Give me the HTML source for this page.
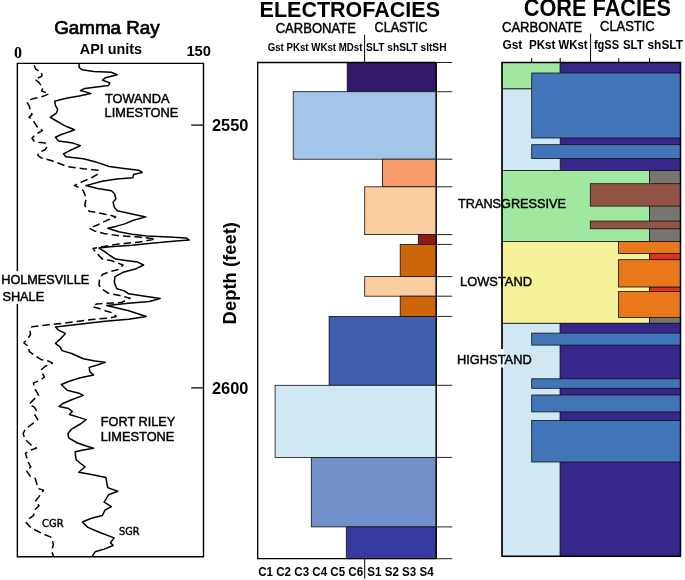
<!DOCTYPE html>
<html><head><meta charset="utf-8"><title>Gamma Ray / Electrofacies / Core Facies</title>
<style>
html,body{margin:0;padding:0;background:#fff;}
body{width:685px;height:580px;overflow:hidden;}
svg{display:block;font-family:"Liberation Sans",sans-serif;fill:#000;}
</style></head><body>
<svg width="685" height="580" viewBox="0 0 685 580">
<rect width="685" height="580" fill="#fff"/>

<g fill="none" stroke="#000" stroke-width="1.4">
<path d="M17.35,271.2 V63.4 H203.5 V556.8 H17.35 V303.9"/>
<path d="M191.2,125.1 H203.3 M191.2,387.9 H203.3"/>
</g>
<path d="M79.1,64.0 L79.1,67.5 L82.0,69.7 L93.7,71.4 L111.3,72.3 L117.2,74.8 L105.5,77.7 L102.5,80.2 L109.9,82.9 L108.4,85.5 L96.7,87.0 L84.9,88.4 L80.5,90.6 L90.8,93.4 L79.1,96.1 L68.8,97.8 L60.0,99.7 L54.7,101.2 L55.5,105.6 L57.7,109.3 L56.6,112.9 L50.3,117.3 L54.0,119.5 L61.3,123.9 L67.2,126.8 L74.5,129.8 L68.7,132.0 L61.3,134.5 L55.5,137.2 L58.4,140.9 L73.0,143.1 L80.4,145.6 L71.6,149.7 L63.5,153.8 L65.7,156.7 L83.3,158.8 L96.1,162.1 L109.3,166.5 L124.0,168.4 L138.7,170.2 L142.3,172.4 L133.5,174.6 L132.8,177.8 L116.7,179.0 L102.0,181.2 L85.9,185.6 L97.6,188.5 L111.5,190.7 L114.5,193.7 L115.9,198.8 L113.0,202.4 L114.5,207.6 L117.3,210.7 L132.0,214.1 L145.9,216.9 L133.5,220.3 L124.7,223.9 L115.9,226.4 L107.7,228.3 L118.8,231.7 L132.0,234.2 L146.7,236.1 L168.7,237.1 L186.2,237.9 L189.2,240.1 L176.0,241.1 L154.0,243.0 L132.0,245.2 L110.0,246.7 L98.9,248.1 L104.0,251.1 L109.9,255.5 L115.7,259.1 L126.0,260.6 L137.7,262.1 L143.6,265.0 L136.2,268.7 L123.0,272.3 L115.0,276.7 L114.3,281.8 L115.5,285.5 L116.9,288.7 L124.3,290.9 L128.7,293.8 L143.3,296.0 L160.2,298.5 L149.2,301.4 L128.7,303.3 L106.7,305.5 L128.7,310.7 L146.2,316.5 L128.7,319.3 L105.0,321.2 L83.3,323.7 L55.5,327.1 L58.4,330.1 L65.4,333.4 L61.3,338.1 L55.5,343.3 L59.9,346.9 L62.1,350.6 L71.6,353.5 L83.3,358.7 L95.0,360.9 L105.3,362.3 L96.5,365.2 L89.2,367.4 L89.9,371.8 L93.6,375.1 L80.4,377.7 L70.0,381.0 L61.3,384.5 L67.2,390.3 L78.9,393.2 L83.3,395.4 L71.6,399.8 L62.8,403.5 L59.1,406.4 L68.7,408.6 L72.3,411.5 L69.4,414.5 L78.9,417.4 L86.2,419.6 L80.4,424.0 L71.6,429.1 L67.9,433.5 L68.7,437.9 L77.4,443.0 L86.2,446.0 L93.6,448.2 L83.3,450.1 L75.2,451.8 L75.5,456.0 L76.3,460.0 L85.1,466.8 L78.8,472.2 L91.4,474.5 L105.9,477.6 L107.7,487.6 L117.7,491.2 L108.6,494.8 L104.1,502.1 L111.4,506.6 L105.0,510.2 L102.3,515.6 L91.4,518.3 L82.4,522.0 L87.8,527.4 L100.5,532.8 L114.1,537.9 L110.5,542.8 L113.2,545.5 L104.1,549.1 L95.1,551.8 L92.4,556.2" fill="none" stroke="#000" stroke-width="1.5" stroke-linejoin="round"/>
<path d="M34.2,65.3 L35.7,69.2 L41.5,72.6 L42.0,76.0 L34.9,79.6 L38.6,82.1 L43.0,88.0 L41.5,90.9 L48.9,93.9 L43.7,96.1 L34.9,98.3 L29.8,99.7 L27.3,102.7 L29.1,105.6 L30.5,110.7 L32.0,114.4 L29.1,117.3 L33.5,121.0 L37.1,126.8 L39.3,127.1 L42.3,130.5 L34.9,134.9 L32.0,138.2 L34.2,141.2 L38.6,142.3 L45.2,143.1 L47.4,146.0 L45.2,149.7 L38.6,152.6 L37.9,155.5 L40.8,157.7 L54.0,161.4 L67.2,166.5 L83.3,168.7 L98.0,170.2 L98.7,173.4 L92.1,177.5 L81.8,181.9 L74.5,185.6 L78.9,187.5 L83.3,190.7 L86.2,198.0 L84.8,205.4 L89.2,211.2 L98.1,212.9 L109.9,215.1 L115.7,217.0 L106.9,220.3 L98.1,224.7 L89.3,228.3 L95.2,231.3 L104.0,233.5 L118.7,235.7 L133.3,236.7 L139.3,237.1 L155.5,239.0 L139.3,242.0 L124.7,243.4 L118.7,244.0 L104.0,246.4 L93.0,248.4 L96.7,253.3 L102.5,259.1 L111.3,260.6 L123.0,265.0 L118.7,269.4 L109.9,271.6 L102.5,274.5 L99.6,278.9 L98.9,284.8 L101.5,288.7 L108.1,293.1 L119.9,295.6 L130.1,298.2 L121.3,302.6 L106.7,303.3 L96.4,304.1 L92.7,306.7 L99.3,308.5 L105.2,310.7 L112.5,312.9 L116.2,316.5 L109.6,318.0 L92.1,319.4 L76.0,321.7 L61.3,323.5 L46.7,324.9 L32.0,326.7 L29.8,329.3 L30.5,334.5 L27.6,338.9 L23.9,342.8 L29.1,346.9 L29.1,351.3 L34.9,355.7 L40.8,359.4 L48.1,360.9 L52.5,363.0 L45.2,366.3 L41.5,369.6 L42.3,373.3 L44.5,377.0 L39.7,380.5 L33.5,382.9 L34.2,387.3 L38.6,395.4 L34.2,399.1 L29.1,404.2 L34.2,407.1 L37.1,411.5 L34.9,415.2 L37.9,419.6 L31.3,424.7 L25.4,429.1 L23.2,433.5 L24.7,438.7 L30.5,444.5 L36.4,448.2 L29.8,450.4 L25.4,453.3 L26.6,457.0 L27.2,460.4 L30.8,466.8 L26.3,470.4 L29.9,475.8 L35.3,478.5 L38.1,488.5 L43.5,490.3 L39.0,496.6 L35.3,501.2 L39.0,505.7 L35.3,509.3 L33.5,515.6 L28.1,519.3 L26.3,522.9 L31.7,528.3 L42.6,533.7 L51.6,537.4 L53.4,544.6 L51.6,550.9 L53.4,556.2" fill="none" stroke="#000" stroke-width="1.5" stroke-dasharray="7.5 4" stroke-linejoin="round"/>
<text x="54.2" y="34.3" font-size="18" font-weight="normal" textLength="105.5" lengthAdjust="spacingAndGlyphs" stroke="#000" stroke-width="0.7">Gamma Ray</text>
<text x="79.8" y="53.5" font-size="14" font-weight="bold" textLength="62.2" lengthAdjust="spacingAndGlyphs">API units</text>
<text x="13.9" y="57.8" font-size="16" font-weight="bold" font-family="Liberation Serif, serif">0</text>
<text x="186.4" y="56.4" font-size="15" font-weight="bold" textLength="24.6" lengthAdjust="spacingAndGlyphs">150</text>
<text x="104.9" y="102.6" font-size="13" font-weight="normal" textLength="64.6" lengthAdjust="spacingAndGlyphs" stroke="#000" stroke-width="0.45">TOWANDA</text>
<text x="104.6" y="116.9" font-size="13" font-weight="normal" textLength="73.6" lengthAdjust="spacingAndGlyphs" stroke="#000" stroke-width="0.45">LIMESTONE</text>
<text x="1.3" y="284.1" font-size="13" font-weight="normal" textLength="87.8" lengthAdjust="spacingAndGlyphs" stroke="#000" stroke-width="0.45">HOLMESVILLE</text>
<text x="2.4" y="300.5" font-size="13" font-weight="normal" textLength="41.8" lengthAdjust="spacingAndGlyphs" stroke="#000" stroke-width="0.45">SHALE</text>
<text x="100.8" y="426.4" font-size="13" font-weight="normal" textLength="74.4" lengthAdjust="spacingAndGlyphs" stroke="#000" stroke-width="0.45">FORT RILEY</text>
<text x="100.7" y="441.2" font-size="13" font-weight="normal" textLength="73.7" lengthAdjust="spacingAndGlyphs" stroke="#000" stroke-width="0.45">LIMESTONE</text>
<text x="42.1" y="527.0" font-size="11" font-weight="normal" textLength="21.4" lengthAdjust="spacingAndGlyphs" font-family="DejaVu Sans, sans-serif" stroke="#000" stroke-width="0.45">CGR</text>
<text x="119.1" y="534.7" font-size="11" font-weight="normal" textLength="20.5" lengthAdjust="spacingAndGlyphs" font-family="DejaVu Sans, sans-serif" stroke="#000" stroke-width="0.45">SGR</text>
<text x="211.9" y="130.6" font-size="16" font-weight="bold" textLength="36.5" lengthAdjust="spacingAndGlyphs">2550</text>
<text x="211.9" y="393.5" font-size="16" font-weight="bold" textLength="36.5" lengthAdjust="spacingAndGlyphs">2600</text>
<text transform="translate(236,324.4) rotate(-90)" font-size="17.5" font-weight="bold" textLength="102.3" lengthAdjust="spacingAndGlyphs">Depth (feet)</text>
<text x="259.6" y="16.8" font-size="22" font-weight="bold" textLength="180.4" lengthAdjust="spacingAndGlyphs">ELECTROFACIES</text>
<text x="275.7" y="33.0" font-size="14" font-weight="normal" textLength="80.3" lengthAdjust="spacingAndGlyphs" stroke="#000" stroke-width="0.45">CARBONATE</text>
<text x="374.6" y="32.0" font-size="14" font-weight="normal" textLength="53.0" lengthAdjust="spacingAndGlyphs" stroke="#000" stroke-width="0.45">CLASTIC</text>
<text x="267.7" y="51.4" font-size="11.5" font-weight="bold" textLength="94.7" lengthAdjust="spacingAndGlyphs">Gst PKst WKst MDst</text>
<text x="366.0" y="51.4" font-size="11.5" font-weight="bold" textLength="80.5" lengthAdjust="spacingAndGlyphs">SLT shSLT sltSH</text>
<path d="M364.6,34.7 V62 M364.7,558.7 V578.7" stroke="#000" stroke-width="1" fill="none"/>
<path d="M436.2,62.5 H452.3 M436.2,91.7 H452.3 M436.2,159.2 H452.3 M436.2,186.8 H452.3 M436.2,234.6 H452.3 M436.2,244.4 H452.3 M436.2,276.6 H452.3 M436.2,296.2 H452.3 M436.2,316.4 H452.3 M436.2,385.3 H452.3 M436.2,457.4 H452.3 M436.2,526.9 H452.3 M436.2,558.7 H452.3" stroke="#222" stroke-width="1" fill="none"/>
<rect x="347.2" y="62.5" width="89.0" height="29.2" fill="#32196B" stroke="#111" stroke-width="0.8"/>
<rect x="293.2" y="91.7" width="143.0" height="67.5" fill="#A3C5E8" stroke="#111" stroke-width="0.8"/>
<rect x="382.4" y="159.2" width="53.8" height="27.6" fill="#F89B6B" stroke="#111" stroke-width="0.8"/>
<rect x="364.7" y="186.8" width="71.5" height="47.8" fill="#FACD9E" stroke="#111" stroke-width="0.8"/>
<rect x="418.3" y="234.6" width="17.9" height="9.8" fill="#8A1A12" stroke="#111" stroke-width="0.8"/>
<rect x="400.2" y="244.4" width="36.0" height="32.2" fill="#CC6608" stroke="#111" stroke-width="0.8"/>
<rect x="364.7" y="276.6" width="71.5" height="19.6" fill="#FACD9E" stroke="#111" stroke-width="0.8"/>
<rect x="400.2" y="296.2" width="36.0" height="20.2" fill="#CC6608" stroke="#111" stroke-width="0.8"/>
<rect x="329.1" y="316.4" width="107.1" height="68.9" fill="#3F5FAE" stroke="#111" stroke-width="0.8"/>
<rect x="275.1" y="385.3" width="161.1" height="72.1" fill="#D0E8F4" stroke="#111" stroke-width="0.8"/>
<rect x="311.3" y="457.4" width="124.9" height="69.5" fill="#7190CA" stroke="#111" stroke-width="0.8"/>
<rect x="346.3" y="526.9" width="89.9" height="31.8" fill="#38399F" stroke="#111" stroke-width="0.8"/>
<path d="M436.2,62.5 H257.7 V558.7 H436.2" fill="none" stroke="#000" stroke-width="1.3"/>
<path d="M436.2,62.5 V558.7" fill="none" stroke="#000" stroke-width="1.3"/>
<text x="258.2" y="576.3" font-size="12" font-weight="bold" textLength="105.0" lengthAdjust="spacingAndGlyphs">C1 C2 C3 C4 C5 C6</text>
<text x="367.3" y="576.3" font-size="12" font-weight="bold" textLength="66.4" lengthAdjust="spacingAndGlyphs">S1 S2 S3 S4</text>
<text x="523.8" y="15.6" font-size="24" font-weight="bold" textLength="147.2" lengthAdjust="spacingAndGlyphs">CORE FACIES</text>
<text x="502.0" y="32.2" font-size="14" font-weight="normal" textLength="80.2" lengthAdjust="spacingAndGlyphs" stroke="#000" stroke-width="0.45">CARBONATE</text>
<text x="600.1" y="31.3" font-size="14" font-weight="normal" textLength="54.6" lengthAdjust="spacingAndGlyphs" stroke="#000" stroke-width="0.45">CLASTIC</text>
<text x="502.5" y="49.0" font-size="12" font-weight="bold" textLength="19.8" lengthAdjust="spacingAndGlyphs">Gst</text>
<text x="528.9" y="49.0" font-size="12" font-weight="bold" textLength="26.5" lengthAdjust="spacingAndGlyphs">PKst</text>
<text x="558.6" y="49.0" font-size="12" font-weight="bold" textLength="29.0" lengthAdjust="spacingAndGlyphs">WKst</text>
<text x="593.9" y="49.0" font-size="12" font-weight="bold" textLength="25.3" lengthAdjust="spacingAndGlyphs">fgSS</text>
<text x="623.0" y="49.0" font-size="12" font-weight="bold" textLength="20.7" lengthAdjust="spacingAndGlyphs">SLT</text>
<text x="647.5" y="49.0" font-size="12" font-weight="bold" textLength="35.5" lengthAdjust="spacingAndGlyphs">shSLT</text>
<path d="M590.6,33.7 V62 M531.7,58 V62 M560.2,58 V62 M618.8,58 V62 M649.5,58 V62" stroke="#000" stroke-width="1" fill="none"/>
<rect x="502.0" y="62.5" width="58.2" height="26.4" fill="#A0E8A0" stroke="#111" stroke-width="0.8"/>
<rect x="560.2" y="62.5" width="120.3" height="108.0" fill="#38278A" stroke="#111" stroke-width="0.8"/>
<rect x="502.0" y="88.9" width="58.2" height="81.6" fill="#D0E8F4" stroke="#111" stroke-width="0.8"/>
<rect x="531.7" y="73.0" width="148.8" height="65.0" fill="#4275B8" stroke="#111" stroke-width="0.8"/>
<rect x="531.7" y="144.7" width="148.8" height="13.8" fill="#4275B8" stroke="#111" stroke-width="0.8"/>
<rect x="502.0" y="170.5" width="147.4" height="70.9" fill="#A0E8A0" stroke="#111" stroke-width="0.8"/>
<rect x="649.4" y="170.5" width="31.1" height="70.9" fill="#787470" stroke="#111" stroke-width="0.8"/>
<rect x="590.3" y="183.7" width="90.2" height="22.4" fill="#915444" stroke="#111" stroke-width="0.8"/>
<rect x="590.3" y="221.1" width="90.2" height="7.7" fill="#915444" stroke="#111" stroke-width="0.8"/>
<rect x="502.0" y="241.4" width="147.4" height="81.9" fill="#F6F29A" stroke="#111" stroke-width="0.8"/>
<rect x="649.4" y="241.4" width="31.1" height="81.9" fill="#787470" stroke="#111" stroke-width="0.8"/>
<rect x="649.4" y="253.6" width="31.1" height="6.1" fill="#E03020" stroke="#111" stroke-width="0.8"/>
<rect x="649.4" y="287.0" width="31.1" height="4.6" fill="#E03020" stroke="#111" stroke-width="0.8"/>
<rect x="618.5" y="241.4" width="62.0" height="12.2" fill="#E8781A" stroke="#111" stroke-width="0.8"/>
<rect x="618.5" y="259.7" width="62.0" height="27.3" fill="#E8781A" stroke="#111" stroke-width="0.8"/>
<rect x="618.5" y="291.6" width="62.0" height="25.8" fill="#E8781A" stroke="#111" stroke-width="0.8"/>
<rect x="502.0" y="323.3" width="58.2" height="233.0" fill="#D0E8F4" stroke="#111" stroke-width="0.8"/>
<rect x="560.2" y="323.3" width="120.3" height="233.0" fill="#38278A" stroke="#111" stroke-width="0.8"/>
<rect x="531.7" y="333.1" width="148.8" height="12.0" fill="#4275B8" stroke="#111" stroke-width="0.8"/>
<rect x="531.7" y="378.8" width="148.8" height="9.5" fill="#4275B8" stroke="#111" stroke-width="0.8"/>
<rect x="531.7" y="395.0" width="148.8" height="16.9" fill="#4275B8" stroke="#111" stroke-width="0.8"/>
<rect x="531.7" y="420.5" width="148.8" height="41.5" fill="#4275B8" stroke="#111" stroke-width="0.8"/>
<rect x="502.0" y="62.5" width="178.5" height="493.79999999999995" fill="none" stroke="#000" stroke-width="1.5"/>
<rect x="499" y="349" width="5" height="18.5" fill="#fff"/>
<text x="458.0" y="208.2" font-size="13.5" font-weight="normal" textLength="108.0" lengthAdjust="spacingAndGlyphs" stroke="#000" stroke-width="0.45">TRANSGRESSIVE</text>
<text x="460.0" y="285.8" font-size="13.5" font-weight="normal" textLength="72.0" lengthAdjust="spacingAndGlyphs" stroke="#000" stroke-width="0.45">LOWSTAND</text>
<text x="457.0" y="363.8" font-size="13.5" font-weight="normal" textLength="74.7" lengthAdjust="spacingAndGlyphs" stroke="#000" stroke-width="0.45">HIGHSTAND</text>
</svg></body></html>
